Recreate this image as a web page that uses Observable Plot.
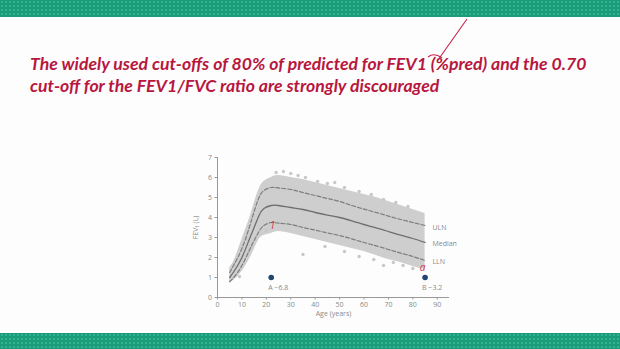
<!DOCTYPE html>
<html>
<head>
<meta charset="utf-8">
<script src="https://cdn.jsdelivr.net/npm/d3@7"></script>
<script src="https://cdn.jsdelivr.net/npm/@observablehq/plot@0.6"></script>
<style>
  html, body { margin: 0; padding: 0; }
  body { width: 620px; height: 349px; position: relative; overflow: hidden; background: #fdfdfd; font-family: "Open Sans", sans-serif; }
  .band { position: absolute; left: 0; width: 620px;
    background-color: #1c9b7b;
    background-image: radial-gradient(circle, #2fb58f 1px, transparent 1.3px);
    background-size: 4px 4px; }
  #top { top: 0; height: 17px; }
  #bottom { top: 333px; height: 16px; }
  #title { position: absolute; left: 30px; top: 53px; color: #b8173d; font-family: "Lato", sans-serif;
    font-weight: bold; font-style: italic; font-size: 15.3px; line-height: 22px; white-space: nowrap; }
  #title span { display: block; }
  #chart { position: absolute; left: 185px; top: 150px; }
  #pen { position: absolute; left: 0; top: 0; }
</style>
</head>
<body>
<div class="band" id="top"></div>
<div class="band" id="bottom"></div>
<div id="title"><span id="l1">The widely used cut-offs of 80% of predicted for FEV1 (%pred) and the 0.70</span><span>cut-off for the FEV1/FVC ratio are strongly discouraged</span></div>
<svg id="pen" width="620" height="349"><path d="M467,19 L438,60 M428,57 Q434,52 442,58" stroke="#c8204a" stroke-width="1.1" fill="none"/></svg>
<div id="chart"></div>
<script>
const ages      = [5, 7, 10, 13, 15, 17, 19, 22, 25, 30, 35, 40, 45, 50, 55, 60, 65, 70, 75, 80, 85];
const cloudLow  = [0.7, 0.9, 1.3, 1.9, 2.4, 2.9, 3.1, 3.2, 3.3, 3.2, 3.05, 2.9, 2.75, 2.6, 2.45, 2.3, 2.1, 1.9, 1.75, 1.55, 1.4];
const cloudHigh = [1.5, 1.9, 2.9, 3.9, 4.7, 5.4, 5.8, 6.0, 6.1, 6.0, 5.9, 5.75, 5.6, 5.45, 5.3, 5.15, 5.0, 4.8, 4.6, 4.4, 4.2];
const median    = [1.0, 1.35, 2.0, 2.9, 3.5, 4.1, 4.45, 4.6, 4.6, 4.5, 4.4, 4.25, 4.12, 4.0, 3.83, 3.65, 3.48, 3.3, 3.12, 2.95, 2.75];
const uln       = [1.25, 1.7, 2.45, 3.5, 4.3, 5.0, 5.35, 5.5, 5.48, 5.4, 5.25, 5.1, 4.95, 4.8, 4.6, 4.42, 4.25, 4.07, 3.9, 3.75, 3.6];
const lln       = [0.8, 1.05, 1.6, 2.35, 2.85, 3.3, 3.6, 3.75, 3.72, 3.65, 3.5, 3.37, 3.23, 3.1, 2.93, 2.75, 2.58, 2.4, 2.22, 2.05, 1.85];

const outlierAge = [24, 27, 30, 33, 36, 41, 45, 48, 52, 58, 63, 68, 73, 78, 35, 44, 52, 58, 64, 68, 72, 76, 12, 14, 9, 20, 80];
const outlierFev = [6.25, 6.3, 6.2, 6.1, 6.0, 5.8, 5.7, 5.75, 5.5, 5.3, 5.15, 4.9, 4.75, 4.55, 2.15, 2.55, 2.3, 2.05, 1.9, 1.6, 1.75, 1.6, 2.95, 2.55, 1.05, 3.35, 1.45];

const curveLabels = ["ULN", "Median", "LLN"];
const curveLabelY = [3.5, 2.7, 1.8];
const patientNames = ["A", "B"];
const patientAge = [22, 85];
const patientFev = [1.0, 1.0];
const patientZ = ["−6.8", "−3.2"];
const penMarks = ["1", "a"];
const penAge = [22.5, 84];
const penFev = [3.6, 1.5];

const xTicks = [0, 10, 20, 30, 40, 50, 60, 70, 80, 90];
const yTicks = [0, 1, 2, 3, 4, 5, 6, 7];

// fit the title's first line to the slide width it spans in the reference
(function () {
  const t = document.getElementById("title"), l1 = document.getElementById("l1");
  const w = l1.getBoundingClientRect().width;
  l1.style.display = "inline-block";
  const iw = l1.getBoundingClientRect().width;
  l1.style.display = "block";
  const fs = parseFloat(getComputedStyle(t).fontSize);
  t.style.fontSize = (fs * 557 / iw) + "px";
})();

const curve = ages.map((a, i) => ({age: a, lo: cloudLow[i], hi: cloudHigh[i], med: median[i], uln: uln[i], lln: lln[i]}));
const outliers = outlierAge.map((a, i) => ({age: a, fev: outlierFev[i]}));
const labels = curveLabels.map((l, i) => ({label: l, y: curveLabelY[i]}));
const patients = patientNames.map((n, i) => ({label: n + " " + patientZ[i], age: patientAge[i], fev: patientFev[i]}));
const pens = penMarks.map((m, i) => ({m, age: penAge[i], fev: penFev[i]}));

const chart = Plot.plot({
  width: 290, height: 175,
  marginLeft: 32, marginRight: 26, marginTop: 7, marginBottom: 28,
  style: {fontFamily: "Open Sans, sans-serif", fontSize: "7px", color: "#888", background: "transparent", overflow: "visible"},
  x: {domain: [0, 95]},
  y: {domain: [0, 7]},
  marks: [
    Plot.areaY(curve, {x: "age", y1: "lo", y2: "hi", fill: "#cecece", curve: "natural"}),
    Plot.dot(outliers, {x: "age", y: "fev", r: 1.7, fill: "#c8c8c8"}),
    Plot.line(curve, {x: "age", y: "uln", stroke: "#7d7d7d", strokeWidth: 1.2, strokeDasharray: "4,2", curve: "natural"}),
    Plot.line(curve, {x: "age", y: "lln", stroke: "#7d7d7d", strokeWidth: 1.2, strokeDasharray: "4,2", curve: "natural"}),
    Plot.line(curve, {x: "age", y: "med", stroke: "#6e6e70", strokeWidth: 1.3, curve: "natural"}),
    Plot.ruleY([0], {stroke: "#999"}),
    Plot.ruleX([0], {y1: 0, y2: 7, stroke: "#999"}),
    Plot.axisX({ticks: xTicks, tickFormat: "d", tickSize: 2.5, tickPadding: 2, stroke: "#999", fill: "#8a8a8a", label: "Age (years)", labelAnchor: "center", labelArrow: "none", labelOffset: 18}),
    Plot.axisY({ticks: yTicks, tickFormat: "d", tickSize: 2.5, tickPadding: 3, stroke: "#999", fill: "#8a8a8a", label: "FEV\u2081 (L)", labelAnchor: "center", labelArrow: "none", labelOffset: 24}),
    Plot.text(labels, {x: 88, y: "y", text: "label", textAnchor: "start", fill: "#8a8a8a", fontSize: 7}),
    Plot.dot(patients, {x: "age", y: "fev", r: 2.8, fill: "#1f4571"}),
    Plot.text(patients, {x: "age", y: "fev", text: "label", textAnchor: "start", dx: -3, dy: 10, fill: "#8a8a8a", fontSize: 7}),
    Plot.text(pens, {x: "age", y: "fev", text: "m", fill: "#d0304f", fontSize: 10, fontStyle: "italic"})
  ]
});
document.getElementById("chart").appendChild(chart);
</script>
</body>
</html>
